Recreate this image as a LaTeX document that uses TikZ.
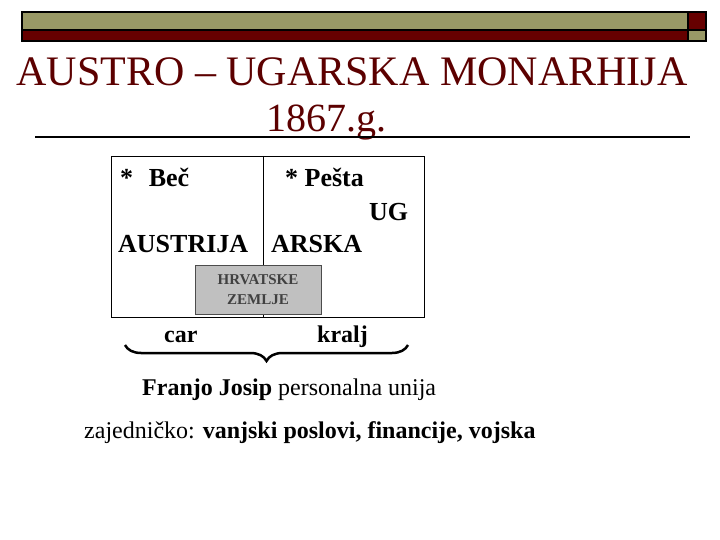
\documentclass[tikz,border=0pt]{standalone}
\usepackage{fontspec}
\setmainfont{Liberation Serif}
\usetikzlibrary{decorations.pathreplacing}
\definecolor{barolive}{HTML}{999966}
\definecolor{barred}{HTML}{660000}
\definecolor{titlered}{HTML}{5C0000}
\definecolor{landgray}{HTML}{C0C0C0}
\tikzset{
    titletext/.style={anchor=base, inner sep=0pt, text=titlered},
    boxtext/.style={anchor=base west, inner sep=0pt, font=\fontsize{26}{31}\selectfont\bfseries},
    ruletext/.style={anchor=base west, inner sep=0pt, font=\fontsize{24}{29}\selectfont},
    barpart/.style={draw=black, line width=1.5pt}
}
\begin{document}
\begin{tikzpicture}[x=1pt, y=-1pt]
    \useasboundingbox (0,0) rectangle (720,540);

    % Bar
    \fill[barolive] (22,12) rectangle (688,30);
    \fill[barred] (22,30) rectangle (688,41);
    \fill[barred] (688,12) rectangle (706,30);
    \fill[barolive] (688,30) rectangle (706,41);
    \draw[barpart] (22,12) rectangle (706,41);
    \draw[barpart] (22,30) -- (706,30);
    \draw[barpart] (688,12) -- (688,41);

    % Title
    \node[titletext, font=\fontsize{42}{50}\selectfont] (title) at (352,86) {AUSTRO – UGARSKA MONARHIJA};
    \node[titletext, font=\fontsize{40}{48}\selectfont] (year) at (326,132) {1867.g.};
    \coordinate (ruleL) at (35,137);
    \coordinate (ruleR) at (690,137);
    \draw[line width=1.5pt] (ruleL) -- (ruleR);

    % Lands
    \draw[line width=0.8pt] (111,156) rectangle (424,317);
    \coordinate (divT) at (263,156);
    \coordinate (divB) at (263,317);
    \draw[line width=0.8pt] (divT) -- (divB);
    \node[boxtext] (bec) at (120,187) {*\hspace{0.6em}Beč};
    \node[boxtext] (pesta) at (285,187) {* Pešta};
    \node[boxtext] (ug) at (369,221) {UG};
    \node[boxtext] (austrija) at (118,252) {AUSTRIJA};
    \node[boxtext] (arska) at (271,252) {ARSKA};
    \node[draw=black!70, fill=landgray, minimum width=126pt, minimum height=49pt, inner sep=0pt,
          align=center, text=black!75, font=\fontsize{15}{20}\selectfont\bfseries] (hrv) at (258,289.5)
          {HRVATSKE\\ZEMLJE};

    % Rulers
    \node[boxtext, font=\fontsize{24}{29}\selectfont\bfseries] (car) at (164,342) {car};
    \node[boxtext, font=\fontsize{24}{29}\selectfont\bfseries] (kralj) at (317,342) {kralj};
    \coordinate (braceL) at (125,345);
    \coordinate (braceR) at (408,345);
    \draw[line width=2.5pt, decorate, decoration={brace, mirror, amplitude=16pt}] (braceL) -- (braceR);

    \node[ruletext] (unija) at (142,395) {\textbf{Franjo Josip} personalna unija};
    \node[ruletext] (zajed) at (84,438) {zajedničko: \textbf{vanjski poslovi, financije, vojska}};
\end{tikzpicture}
\end{document}
